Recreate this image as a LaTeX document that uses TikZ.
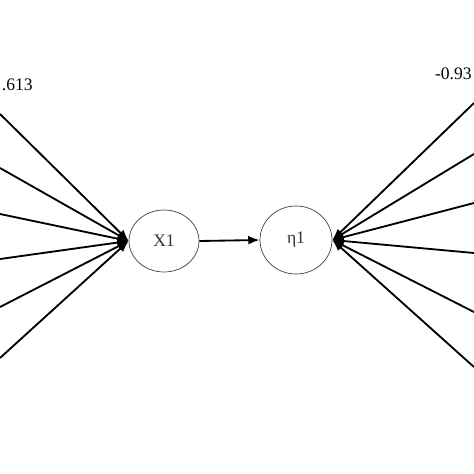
\documentclass[tikz,border=0pt]{standalone}
\usepackage{fontspec}
\setmainfont{Liberation Serif}
\usetikzlibrary{arrows.meta}
\usetikzlibrary{shapes.geometric}
\usetikzlibrary{positioning}

\begin{document}
\begin{tikzpicture}[x=0.02cm,y=-0.02cm]
\tikzset{latent/.style={ellipse,draw=black!75,thin,text=black!80,inner sep=0pt},
path/.style={black,line width=1.05pt,-{Latex[length=6.5pt,width=5pt]}},
weight/.style={inner sep=0pt}}
\useasboundingbox (0,0) rectangle (474,474);
\clip (0,0) rectangle (474,474);
\node[latent,minimum width=1.4cm,minimum height=1.24cm] (X1) at (164,241) {X1};
\node[latent,minimum width=1.44cm,minimum height=1.36cm] (eta1) at (296,240) {η1};

\coordinate (a1) at (0,114);
\coordinate (a2) at (0,168);
\coordinate (a3) at (0,214);
\coordinate (a4) at (0,259);
\coordinate (a5) at (0,307);
\coordinate (a6) at (0,358);
\coordinate (b1) at (474,103);
\coordinate (b2) at (474,154);
\coordinate (b3) at (474,203);
\coordinate (b4) at (474,253);
\coordinate (b5) at (474,312);
\coordinate (b6) at (474,367);

\draw[path] (a1) -- (X1.west);
\draw[path] (a2) -- (X1.west);
\draw[path] (a3) -- (X1.west);
\draw[path] (a4) -- (X1.west);
\draw[path] (a5) -- (X1.west);
\draw[path] (a6) -- (X1.west);
\draw[path] (b1) -- (eta1.east);
\draw[path] (b2) -- (eta1.east);
\draw[path] (b3) -- (eta1.east);
\draw[path] (b4) -- (eta1.east);
\draw[path] (b5) -- (eta1.east);
\draw[path] (b6) -- (eta1.east);
\draw[path] (X1.east) -- (eta1.west);

\node[weight,anchor=east] (w1) at (33,85) {.613};
\node[weight,anchor=east] (w2) at (472,74) {-0.93};
\end{tikzpicture}
\end{document}
